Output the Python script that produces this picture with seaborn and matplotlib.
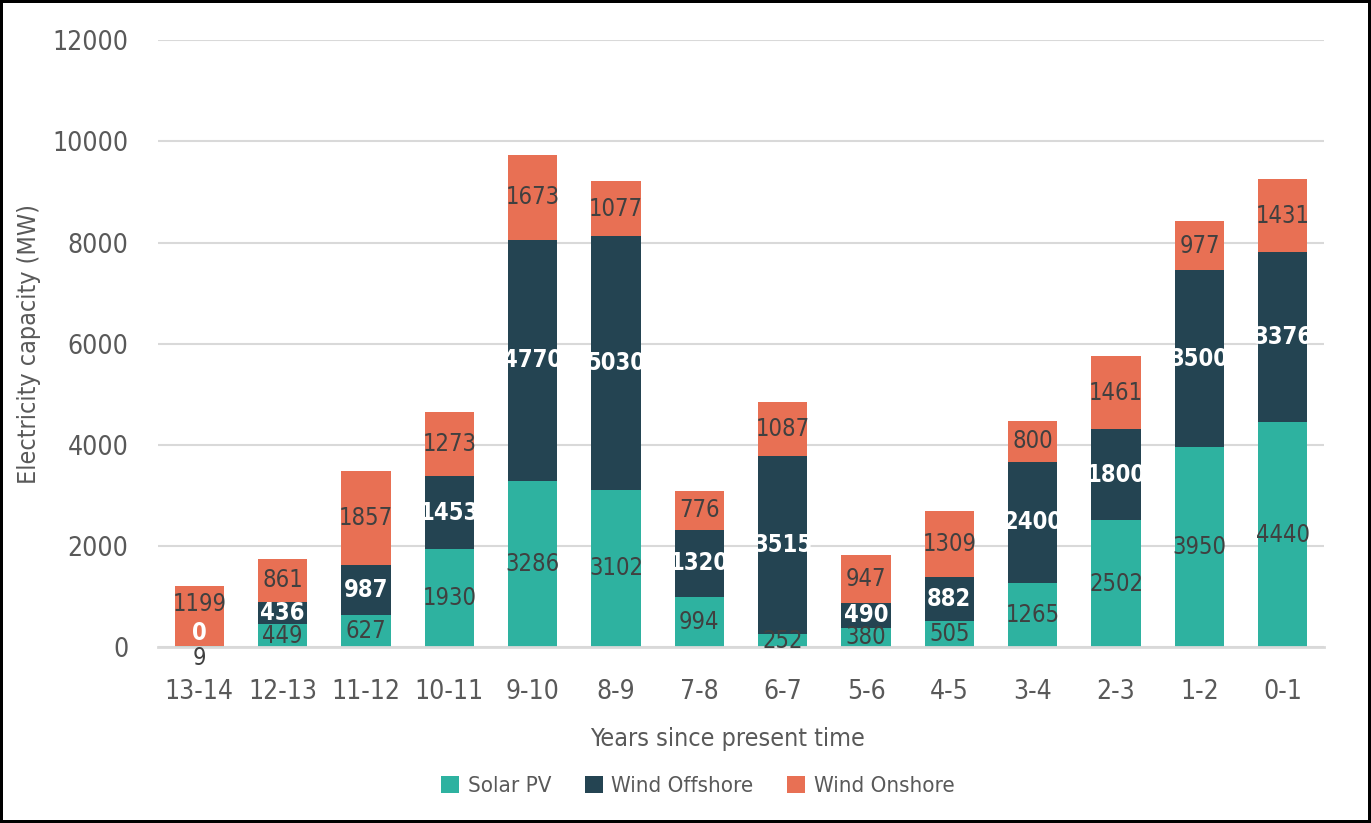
import matplotlib
matplotlib.use("Agg")
import matplotlib.pyplot as plt
import numpy as np
import pandas as pd
import seaborn as sns

periods = ["13-14", "12-13", "11-12", "10-11", "9-10", "8-9", "7-8",
           "6-7", "5-6", "4-5", "3-4", "2-3", "1-2", "0-1"]
solar_pv = [9, 449, 627, 1930, 3286, 3102, 994, 252, 380, 505, 1265, 2502, 3950, 4440]
wind_offshore = [0, 436, 987, 1453, 4770, 5030, 1320, 3515, 490, 882, 2400, 1800, 3500, 3376]
wind_onshore = [1199, 861, 1857, 1273, 1673, 1077, 776, 1087, 947, 1309, 800, 1461, 977, 1431]

series = [
    ("Solar PV", solar_pv, "#2EB2A0", "#404040", "normal"),
    ("Wind Offshore", wind_offshore, "#244452", "white", "bold"),
    ("Wind Onshore", wind_onshore, "#E87054", "#404040", "normal"),
]

sns.set_theme(style="white")
plt.rcParams["font.family"] = ["DejaVu Sans"]
plt.rcParams["font.stretch"] = "condensed"

fig = plt.figure(figsize=(13.71, 8.23), dpi=100)
fig.patch.set_edgecolor("black")
fig.patch.set_linewidth(3)
ax = fig.add_axes([0.115, 0.214, 0.851, 0.737])

bottom = np.zeros(len(periods))
for name, vals, color, tcol, weight in series:
    df = pd.DataFrame({"period": periods, "value": vals})
    sns.barplot(data=df, x="period", y="value", color=color, bottom=bottom,
                width=0.59, ax=ax, label=name, saturation=1, linewidth=0)
    for i, v in enumerate(vals):
        y = bottom[i] + v / 2
        # tiny segments: nudge the labels apart like the original does
        dy = 0
        if name == "Solar PV" and v < 50:
            dy = -8
        elif name == "Wind Offshore" and v < 50:
            dy = 10
        elif name == "Wind Onshore" and wind_offshore[i] < 50:
            dy = 9
        ax.annotate(str(v), (i, y), xytext=(0, dy), textcoords="offset points",
                    ha="center", va="center", fontsize=17, color=tcol,
                    fontweight=weight)
    bottom = bottom + np.array(vals)

ax.set_ylim(0, 12000)
ax.set_xlim(-0.5, 13.5)
ax.set_yticks(np.arange(0, 12001, 2000))
ax.yaxis.grid(True, color="#D9D9D9", linewidth=1.5)
ax.set_axisbelow(True)
for s in ["top", "right", "left"]:
    ax.spines[s].set_visible(False)
ax.spines["bottom"].set_color("#D9D9D9")
ax.spines["bottom"].set_linewidth(2)
ax.tick_params(axis="both", labelsize=19, colors="#595959", length=0)
ax.tick_params(axis="x", pad=23)
ax.tick_params(axis="y", pad=21)
ax.set_xlabel("Years since present time", fontsize=18, color="#595959",
              labelpad=16, x=0.488)
ax.set_ylabel("Electricity capacity (MW)", fontsize=18, color="#595959", labelpad=8)

ax.legend(loc="upper center", bbox_to_anchor=(0.463, -0.18), ncol=3, frameon=False,
          fontsize=16, labelcolor="#595959", handlelength=0.8, handleheight=0.8,
          handletextpad=0.4, columnspacing=1.5)

fig.savefig("out.png", dpi=100, edgecolor=fig.get_edgecolor())
